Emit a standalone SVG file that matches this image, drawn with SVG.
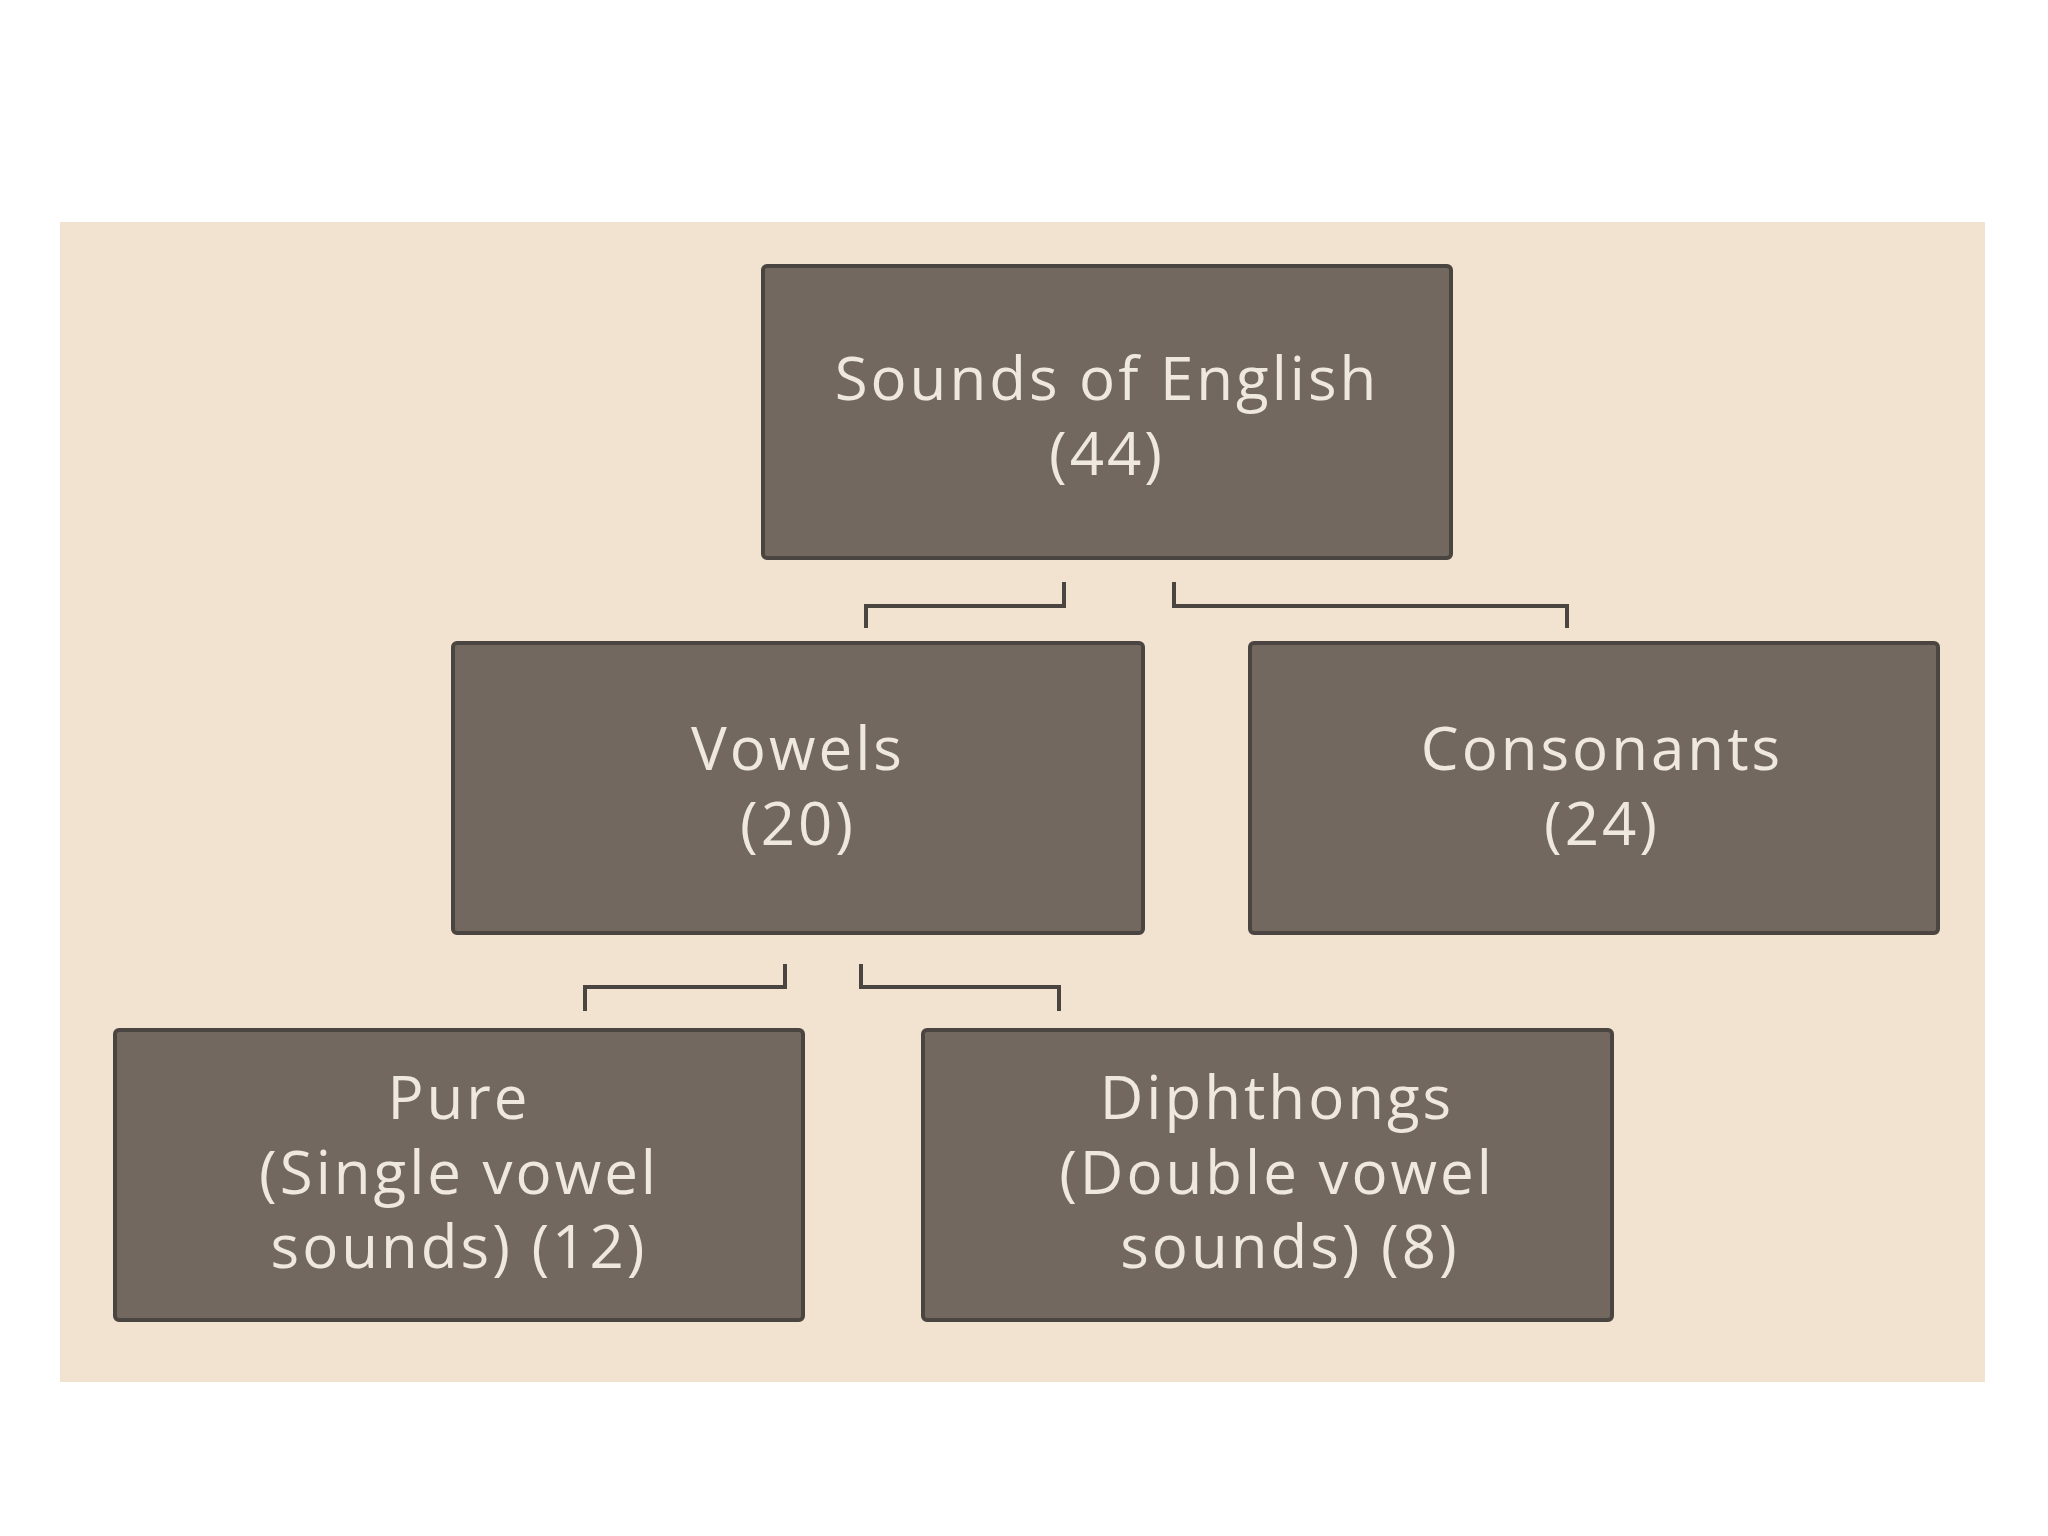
<svg xmlns="http://www.w3.org/2000/svg" width="2048" height="1536" viewBox="0 0 2048 1536">
<style>
.box{fill:#736860;stroke:#4b4541;stroke-width:4}
.t{font-family:"Open Sans","DejaVu Sans",sans-serif;font-size:60px;fill:#efe8de;text-anchor:middle;letter-spacing:3px}
.c{fill:none;stroke:#4b4541;stroke-width:4}
</style>
<rect width="2048" height="1536" fill="#ffffff"/>
<rect x="60" y="222" width="1925" height="1160" fill="#f2e2d0"/>
<g id="n-root"><rect class="box" x="763" y="266" width="688" height="292" rx="4"/>
<text class="t" x="1107" y="400">Sounds of English</text><text class="t" x="1107" y="475">(44)</text></g>
<g id="n-vowels"><rect class="box" x="453" y="643" width="690" height="290" rx="4"/>
<text class="t" x="798" y="770">Vowels</text><text class="t" x="798" y="845">(20)</text></g>
<g id="n-consonants"><rect class="box" x="1250" y="643" width="688" height="290" rx="4"/>
<text class="t" x="1602" y="770">Consonants</text><text class="t" x="1602" y="845">(24)</text></g>
<g id="n-pure"><rect class="box" x="115" y="1030" width="688" height="290" rx="4"/>
<text class="t" x="459" y="1119">Pure</text><text class="t" x="459" y="1194">(Single vowel</text><text class="t" x="459" y="1268">sounds) (12)</text></g>
<g id="n-diph"><rect class="box" x="923" y="1030" width="689" height="290" rx="4"/>
<text class="t" x="1277" y="1119">Diphthongs</text><text class="t" x="1277" y="1194">(Double vowel</text><text class="t" x="1290" y="1268">sounds) (8)</text></g>
<g id="connectors">
<path class="c" d="M1064 582V606H866V628"/>
<path class="c" d="M1174 582V606H1567V628"/>
<path class="c" d="M785 964V987H585V1011"/>
<path class="c" d="M861 964V987H1059V1011"/>
</g>
</svg>
